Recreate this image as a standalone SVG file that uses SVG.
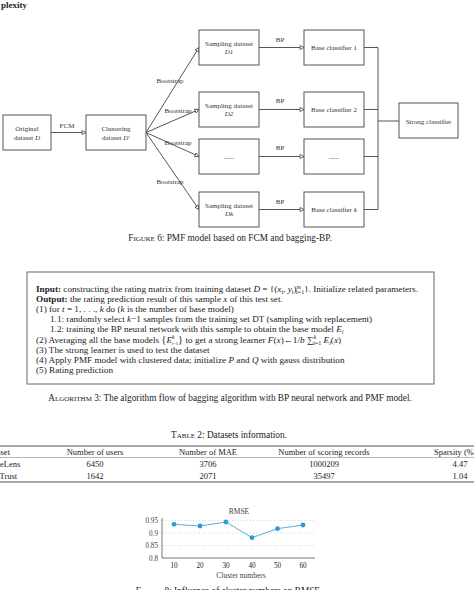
<svg xmlns="http://www.w3.org/2000/svg" width="474" height="590" viewBox="0 0 474 590">
<style>
  text { font-family: "Liberation Serif", "Times New Roman", serif; fill: #222; }
  .fl { font-size: 7px; fill: #333; text-anchor: middle; }
  .box { fill: #fff; stroke: #555; stroke-width: 1; }
  .cap { font-size: 9.3px; text-anchor: middle; }
  .sc { font-variant: small-caps; }
  .alg { font-size: 9.2px; }
  .tb { font-size: 8.5px; }
  .ch { font-size: 7.2px; fill: #444; }
  .grid { stroke: #c8c8c8; stroke-width: 0.8; stroke-dasharray: 1 2; }
</style>
<defs>
  <marker id="arr" markerUnits="userSpaceOnUse" markerWidth="6" markerHeight="6" refX="5" refY="3" orient="auto">
    <path d="M1,1 L5,3 L1,5 z" fill="#fff" stroke="#444" stroke-width="0.8"/>
  </marker>
</defs>
<rect width="474" height="590" fill="#fff"/>

<text x="1" y="8" style="font-size:9px;font-weight:bold">plexity</text>

<!-- Figure 6 -->
<g id="connectors" stroke="#444" stroke-width="0.9" fill="none">
  <line x1="51" y1="132.5" x2="86" y2="132.5" marker-end="url(#arr)"/>
  <line x1="146" y1="132.5" x2="199" y2="47.5" marker-end="url(#arr)"/>
  <line x1="146" y1="132.5" x2="199" y2="109.5" marker-end="url(#arr)"/>
  <line x1="146" y1="132.5" x2="199" y2="156.5" marker-end="url(#arr)"/>
  <line x1="146" y1="132.5" x2="199" y2="209.5" marker-end="url(#arr)"/>
  <line x1="259" y1="47.5" x2="304" y2="47.5" marker-end="url(#arr)"/>
  <line x1="259" y1="109.5" x2="304" y2="109.5" marker-end="url(#arr)"/>
  <line x1="259" y1="156.5" x2="304" y2="156.5" marker-end="url(#arr)"/>
  <line x1="259" y1="209.5" x2="304" y2="209.5" marker-end="url(#arr)"/>
  <path d="M364,47.5 H378 M364,109.5 H378 M364,156.5 H378 M364,209.5 H378 M378,47.5 V209.5 M378,121 H399"/>
</g>
<g id="edge-labels">
  <text class="fl" x="67" y="127.5">FCM</text>
  <text class="fl" x="170" y="82.5">Bootstrap</text>
  <text class="fl" x="178" y="112.5">Bootstrap</text>
  <text class="fl" x="178" y="144.5">Bootstrap</text>
  <text class="fl" x="170" y="183.5">Bootstrap</text>
  <text class="fl" x="280" y="42">BP</text>
  <text class="fl" x="280" y="102.5">BP</text>
  <text class="fl" x="280" y="149.5">BP</text>
  <text class="fl" x="280" y="203.5">BP</text>
</g>
<g id="n-original">
  <rect class="box" x="3" y="115" width="48" height="35"/>
  <text class="fl" x="27" y="130.5">Original</text>
  <text class="fl" x="27" y="139.5">dataset <tspan font-style="italic">D</tspan></text>
</g>
<g id="n-clustering">
  <rect class="box" x="86" y="115" width="60" height="35"/>
  <text class="fl" x="116" y="130.5">Clustering</text>
  <text class="fl" x="116" y="139.5">dataset <tspan font-style="italic">D′</tspan></text>
</g>
<g id="n-s1">
  <rect class="box" x="199" y="30" width="60" height="35"/>
  <text class="fl" x="229" y="45.5">Sampling dataset</text>
  <text class="fl" x="229" y="54" font-style="italic">D1</text>
</g>
<g id="n-s2">
  <rect class="box" x="199" y="92" width="60" height="35"/>
  <text class="fl" x="229" y="107.5">Sampling dataset</text>
  <text class="fl" x="229" y="116" font-style="italic">D2</text>
</g>
<g id="n-s3">
  <rect class="box" x="199" y="139" width="60" height="35"/>
  <text class="fl" x="229" y="159">......</text>
</g>
<g id="n-sk">
  <rect class="box" x="199" y="192" width="60" height="35"/>
  <text class="fl" x="229" y="207.5">Sampling dataset</text>
  <text class="fl" x="229" y="216" font-style="italic">Dk</text>
</g>
<g id="n-b1">
  <rect class="box" x="304" y="30" width="60" height="35"/>
  <text class="fl" x="334" y="50">Base classifier 1</text>
</g>
<g id="n-b2">
  <rect class="box" x="304" y="92" width="60" height="35"/>
  <text class="fl" x="334" y="112">Base classifier 2</text>
</g>
<g id="n-b3">
  <rect class="box" x="304" y="139" width="60" height="35"/>
  <text class="fl" x="334" y="159">......</text>
</g>
<g id="n-bk">
  <rect class="box" x="304" y="192" width="60" height="35"/>
  <text class="fl" x="334" y="212">Base classifier <tspan font-style="italic">k</tspan></text>
</g>
<g id="n-strong">
  <rect class="box" x="399" y="103" width="59" height="35"/>
  <text class="fl" x="428.5" y="123.5">Strong classifier</text>
</g>
<text class="cap" x="230" y="241"><tspan class="sc">Figure</tspan> 6: PMF model based on FCM and bagging-BP.</text>

<!-- Algorithm 3 -->
<rect x="27" y="272" width="407" height="112" fill="#fff" stroke="#666" stroke-width="1"/>
<g class="alg">
  <text x="36" y="292"><tspan font-weight="bold">Input:</tspan> constructing the rating matrix from training dataset <tspan font-style="italic">D</tspan> = {(<tspan font-style="italic">x</tspan><tspan font-size="6" dy="2">i</tspan><tspan dy="-2">, </tspan><tspan font-style="italic">y</tspan><tspan font-size="6" dy="2">i</tspan><tspan dy="-2">)</tspan><tspan font-size="6" font-style="italic" dy="-3.5">m</tspan><tspan font-size="6" dx="-4.7" dy="5.5">i=1</tspan><tspan dy="-2">}. Initialize related parameters.</tspan></text>
  <text x="36" y="302.1"><tspan font-weight="bold">Output:</tspan> the rating prediction result of this sample <tspan font-style="italic">x</tspan> of this test set.</text>
  <text x="36" y="312.2">(1) for <tspan font-style="italic">t</tspan> = 1, . . ., <tspan font-style="italic">k</tspan> do (<tspan font-style="italic">k</tspan> is the number of base model)</text>
  <text x="50" y="322.3">1.1: randomly select <tspan font-style="italic">k</tspan>−1 samples from the training set DT (sampling with replacement)</text>
  <text x="50" y="332.4">1.2: training the BP neural network with this sample to obtain the base model <tspan font-style="italic">E</tspan><tspan font-size="6" font-style="italic" dy="2">i</tspan></text>
  <text x="36" y="342.5">(2) Averaging all the base models <tspan font-size="10.5" dy="0.5">{</tspan><tspan font-style="italic" dy="-0.5">E</tspan><tspan font-size="5.5" font-style="italic" dy="-3.2">k</tspan><tspan font-size="4.8" dx="-2.8" dy="5.2">i=1</tspan><tspan font-size="10.5" dy="-1.5">}</tspan><tspan dy="-0.5"> to get a strong learner </tspan><tspan font-style="italic">F</tspan>(<tspan font-style="italic">x</tspan>)←1/<tspan font-style="italic">b</tspan> ∑<tspan font-size="6" font-style="italic" dy="-3.2">k</tspan><tspan font-size="6" dx="-3" dy="5.2">i=1</tspan><tspan dy="-2"> </tspan><tspan font-style="italic">E</tspan><tspan font-size="6" font-style="italic" dy="2">i</tspan><tspan dy="-2">(</tspan><tspan font-style="italic">x</tspan>)</text>
  <text x="36" y="352.6">(3) The strong learner is used to test the dataset</text>
  <text x="36" y="362.7">(4) Apply PMF model with clustered data; initialize <tspan font-style="italic">P</tspan> and <tspan font-style="italic">Q</tspan> with gauss distribution</text>
  <text x="36" y="372.8">(5) Rating prediction</text>
</g>
<text class="cap" x="230" y="400.5"><tspan class="sc">Algorithm</tspan> 3: The algorithm flow of bagging algorithm with BP neural network and PMF model.</text>

<!-- Table 2 -->
<text class="cap" x="229" y="437.5"><tspan class="sc">Table</tspan> 2: Datasets information.</text>
<line x1="0" y1="446" x2="474" y2="446" stroke="#8a8a8a" stroke-width="1.5"/>
<line x1="0" y1="457.5" x2="474" y2="457.5" stroke="#999" stroke-width="0.7"/>
<line x1="0" y1="482" x2="474" y2="482" stroke="#8a8a8a" stroke-width="1.5"/>
<g class="tb">
  <text x="-15.5" y="454.5">Dataset</text>
  <text x="95" y="454.5" text-anchor="middle">Number of users</text>
  <text x="208" y="454.5" text-anchor="middle">Number of MAE</text>
  <text x="324" y="454.5" text-anchor="middle">Number of scoring records</text>
  <text x="434" y="454.5">Sparsity (%)</text>
  <text x="-18.5" y="466.5">MovieLens</text>
  <text x="95" y="466.5" text-anchor="middle">6450</text>
  <text x="208" y="466.5" text-anchor="middle">3706</text>
  <text x="324" y="466.5" text-anchor="middle">1000209</text>
  <text x="460" y="466.5" text-anchor="middle">4.47</text>
  <text x="-16.5" y="478.5">FilmTrust</text>
  <text x="95" y="478.5" text-anchor="middle">1642</text>
  <text x="208" y="478.5" text-anchor="middle">2071</text>
  <text x="324" y="478.5" text-anchor="middle">35497</text>
  <text x="460" y="478.5" text-anchor="middle">1.04</text>
</g>

<!-- Chart -->
<g id="chart">
  <text class="ch" x="239" y="514" text-anchor="middle" style="font-size:7.5px">RMSE</text>
  <line class="grid" x1="163" y1="520.5" x2="315" y2="520.5"/>
  <line class="grid" x1="163" y1="533" x2="315" y2="533"/>
  <line class="grid" x1="163" y1="545.5" x2="315" y2="545.5"/>
  <path d="M162,518 V558 H315" fill="none" stroke="#555" stroke-width="0.8"/>
  <text class="ch" x="158" y="523" text-anchor="end">0.95</text>
  <text class="ch" x="158" y="535.5" text-anchor="end">0.9</text>
  <text class="ch" x="158" y="548" text-anchor="end">0.85</text>
  <text class="ch" x="158" y="560.5" text-anchor="end">0.8</text>
  <polyline points="174,524.3 200,526 226,522 252,537.7 277.5,528.7 303,525" fill="none" stroke="#5aaee0" stroke-width="1"/>
  <g fill="#2b9ad6">
    <circle cx="174" cy="524.3" r="2.4"/>
    <circle cx="200" cy="526" r="2.4"/>
    <circle cx="226" cy="522" r="2.4"/>
    <circle cx="252" cy="537.7" r="2.4"/>
    <circle cx="277.5" cy="528.7" r="2.4"/>
    <circle cx="303" cy="525" r="2.4"/>
  </g>
  <g class="ch" text-anchor="middle">
    <text x="174" y="567.5">10</text>
    <text x="200" y="567.5">20</text>
    <text x="226" y="567.5">30</text>
    <text x="252" y="567.5">40</text>
    <text x="277.5" y="567.5">50</text>
    <text x="303" y="567.5">60</text>
  </g>
  <text class="ch" x="241" y="578" text-anchor="middle" style="font-size:7.5px">Cluster numbers</text>
</g>
<text class="cap" x="229" y="593.5"><tspan class="sc">Figure</tspan> 8: Influence of cluster numbers on RMSE.</text>
</svg>
